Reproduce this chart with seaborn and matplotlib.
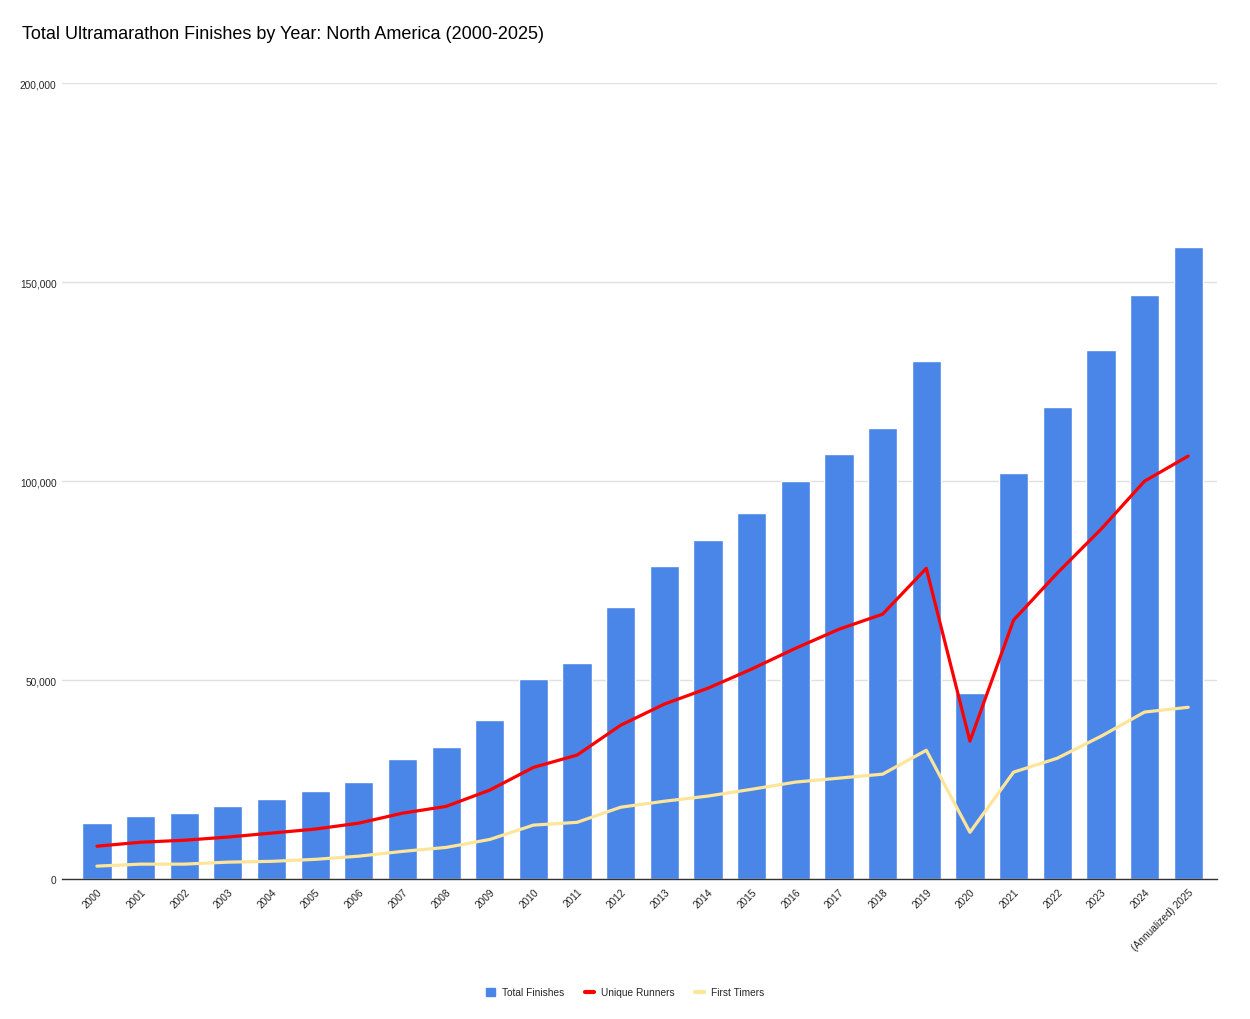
import numpy as np
import pandas as pd
import matplotlib
matplotlib.use("Agg")
import matplotlib.pyplot as plt
import seaborn as sns
from matplotlib.patches import Patch
from matplotlib.lines import Line2D
from matplotlib.ticker import FuncFormatter

# Data
years = [str(y) for y in range(2000, 2025)] + ["(Annualized) 2025"]
total_finishes = [14100, 15800, 16600, 18300, 20100, 22100, 24400, 30200, 33200, 39900,
                  50300, 54300, 68300, 78600, 85200, 92000, 100000, 106800, 113300, 130200,
                  46700, 102000, 118600, 132900, 146700, 158800]
unique_runners = [8300, 9300, 9800, 10600, 11600, 12600, 14100, 16600, 18300, 22400,
                  28100, 31200, 38700, 44000, 48000, 52800, 58000, 62800, 66600, 78100,
                  34700, 65100, 76900, 87900, 100000, 106300]
first_timers = [3300, 3800, 3800, 4300, 4500, 5000, 5800, 7000, 8000, 10000,
                13600, 14300, 18100, 19600, 20900, 22600, 24400, 25400, 26400, 32400,
                11800, 26900, 30400, 35900, 42000, 43200]

BLUE = "#4a86e8"
RED = "#ff0000"
YELLOW = "#ffe599"

sns.set_theme(style="white")
plt.rcParams["font.family"] = ["Liberation Sans", "DejaVu Sans"]

df = pd.DataFrame({
    "Year": years,
    "pos": np.arange(len(years)),
    "Total Finishes": total_finishes,
    "Unique Runners": unique_runners,
    "First Timers": first_timers,
})

fig = plt.figure(figsize=(12.5, 10.2), dpi=100)
ax = fig.add_axes([0.0496, 0.137, 0.924, 0.7806])

sns.barplot(data=df, x="Year", y="Total Finishes", color=BLUE, width=0.67,
            saturation=1, ax=ax, zorder=2)
sns.lineplot(data=df, x="pos", y="Unique Runners", color=RED, linewidth=2.3,
             ax=ax, zorder=3)
sns.lineplot(data=df, x="pos", y="First Timers", color=YELLOW, linewidth=2.3,
             ax=ax, zorder=3)

ax.set_ylim(0, 200000)
ax.set_xlim(-0.8, len(years) - 1 + 0.66)
ax.set_yticks([0, 50000, 100000, 150000, 200000])
ax.yaxis.set_major_formatter(FuncFormatter(lambda v, p: f"{int(v):,}"))
ax.yaxis.grid(True, color="#e0e0e0", linewidth=1)
ax.set_axisbelow(True)
ax.set_xlabel("")
ax.set_ylabel("")

ax.set_xticks(np.arange(len(years)))
ax.set_xticklabels(years, rotation=45, ha="right", rotation_mode="anchor", fontsize=7.3)
ax.tick_params(axis="x", length=0, pad=5)
ax.tick_params(axis="y", length=0, pad=4, labelsize=7.3)

for side in ["top", "right", "left"]:
    ax.spines[side].set_visible(False)
ax.spines["bottom"].set_color("#333333")
ax.spines["bottom"].set_linewidth(1)

fig.text(0.0176, 0.966, "Total Ultramarathon Finishes by Year: North America (2000-2025)",
         fontsize=13, ha="left", va="center", color="#000000")

handles = [
    Patch(facecolor=BLUE, edgecolor=BLUE),
    Line2D([0], [0], color=RED, linewidth=3),
    Line2D([0], [0], color=YELLOW, linewidth=3),
]
fig.legend(handles, ["Total Finishes", "Unique Runners", "First Timers"],
           loc="center", bbox_to_anchor=(0.5, 0.026), ncol=3, frameon=False,
           fontsize=7.3, handlelength=0.9, handleheight=0.9, columnspacing=2.0,
           handletextpad=0.7)

fig.savefig("out.png", dpi=100, facecolor="white")
